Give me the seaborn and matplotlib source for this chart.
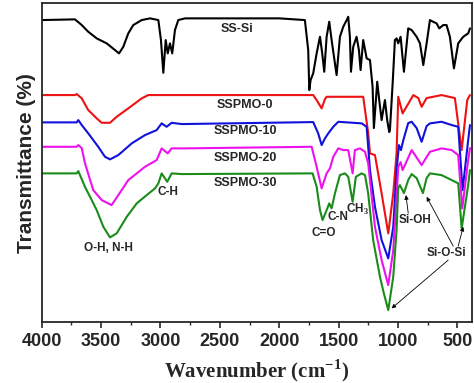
import numpy as np
import pandas as pd
import matplotlib
matplotlib.use("Agg")
import matplotlib.pyplot as plt
from matplotlib.ticker import MultipleLocator
import seaborn as sns

# spectra: wavenumber (cm-1) and transmittance (a.u.)
ss_si_wn = [4000, 3720, 3663, 3608, 3537, 3453, 3383, 3349, 3313, 3271, 3229, 3158,
            3088, 3018, 2996, 2976, 2956, 2939, 2920, 2901, 2878, 2850, 2794, 2000,
            1784, 1756, 1747, 1736, 1714, 1685, 1657, 1638, 1621, 1601, 1579, 1559,
            1517, 1489, 1461, 1432, 1419, 1405, 1396, 1377, 1349, 1329, 1315, 1293,
            1264, 1236, 1214, 1203, 1175, 1158, 1138, 1110, 1091, 1074, 1068, 1045,
            1026, 1012, 998, 978, 950, 914, 885, 843, 815, 787, 759, 731, 704, 675,
            653, 619, 591, 563, 529, 493, 451, 409, 394]
ss_si_t = [302, 302.7, 297, 290.3, 283.7, 278.7, 272, 268.7, 275.3, 288.7, 297, 302,
           303.7, 302, 282, 249.3, 282, 268.7, 278.7, 268.7, 292, 302, 303.7, 303.7,
           302, 272, 232, 242, 248.7, 268.7, 285.3, 268.7, 250.3, 285.3, 300.3, 282,
           247, 285.3, 295.3, 302, 305.3, 285.3, 250.3, 275.3, 285.3, 272, 252, 282,
           263.7, 262, 235.3, 194, 240.3, 222, 202, 222, 202, 190, 192, 238.7,
           282, 283.7, 278.7, 285.3, 250.3, 293.7, 292, 285.3, 278.7, 257, 278.7, 302, 300.3, 298.7,
           293.7, 297, 297, 285.3, 253.7, 278.7, 285.3, 288.7, 293.7]

pmo0_wn = [4000, 3720, 3705, 3663, 3608, 3537, 3495, 3425, 3369, 3271, 3158, 3103,
           1714, 1685, 1643, 1615, 1601, 1293, 1251, 1236, 1194, 1138, 1082, 1040,
           1012, 998, 961, 871, 829, 801, 759, 633, 521, 464, 417, 394]
pmo0_t = [227, 227, 228, 223.7, 212, 203.7, 199.3, 199.3, 205.3, 213.7, 223.7, 227,
          227, 222, 213.7, 223, 225.3, 225.3, 189, 168.7, 167, 128.7, 88.7, 128.7,
          168.7, 225.3, 208.7, 227, 224, 215.3, 224, 227, 224, 172, 222, 227]

pmo10_wn = [4000, 3705, 3692, 3663, 3608, 3524, 3467, 3425, 3355, 3242, 3130, 3032,
            2990, 2948, 2906, 2821, 1714, 1672, 1643, 1615, 1587, 1545, 1503, 1306,
            1264, 1236, 1194, 1138, 1082, 1040, 1012, 992, 975, 955, 914, 885, 843,
            801, 759, 731, 633, 548, 493, 456, 409, 394]
pmo10_t = [199.7, 199.7, 202, 197, 188.7, 175.3, 165.3, 162.7, 167, 178.7, 187, 192,
           198.7, 195.3, 199.3, 198, 200, 188.7, 177, 183.7, 188.7, 195.3, 200.3, 198.7,
           195.3, 152, 115.3, 82, 63.7, 95.3, 152, 177, 172, 182, 199, 200.3, 194,
           180.3, 196, 198.7, 200.3, 197, 195.3, 132, 182, 197]

pmo20_wn = [4000, 3705, 3692, 3663, 3636, 3566, 3495, 3412, 3383, 3271, 3130, 3032,
            2990, 2939, 2906, 2794, 1727, 1685, 1643, 1601, 1573, 1545, 1503, 1461,
            1419, 1382, 1363, 1321, 1278, 1251, 1236, 1194, 1138, 1082, 1040, 1012,
            998, 978, 961, 885, 801, 731, 633, 548, 493, 459, 409, 394]
pmo20_t = [175.3, 175.3, 177, 174, 159, 132, 122, 117, 122, 142, 155.3, 162,
           173.7, 168.7, 173.7, 173.7, 175.3, 155.3, 133.7, 148.7, 153.7, 165.3, 173.7, 172,
           172, 148.7, 172, 173.7, 170.3, 158.7, 142, 95.3, 62, 37, 72, 125.3,
           155.3, 160, 152, 172, 157, 170.3, 173.7, 172, 167, 113.7, 162, 174]

pmo30_wn = [4000, 3705, 3692, 3636, 3579, 3537, 3481, 3425, 3369, 3284, 3200, 3116,
            3046, 3018, 2990, 2943, 2906, 2821, 1719, 1685, 1657, 1635, 1601, 1579,
            1559, 1531, 1489, 1447, 1419, 1382, 1355, 1306, 1278, 1251, 1209, 1152,
            1119, 1082, 1040, 1012, 998, 984, 950, 914, 885, 843, 790, 759, 731,
            633, 548, 493, 464, 409, 394]
pmo30_t = [148.7, 148.7, 151, 135.3, 122, 112, 95.3, 84.7, 88.7, 105.3, 118.7, 127,
           133.7, 138.7, 148.7, 140.3, 148.7, 148, 148.7, 135.3, 112, 102, 112, 118.7,
           113.7, 128.7, 147, 148.7, 145.3, 120.3, 145.3, 148.7, 147, 128.7, 82, 45.3,
           28.7, 12, 45.3, 92, 134, 137, 129, 142, 148, 144, 129, 144, 148.7,
           147, 142, 138.7, 93.7, 137, 152]

samples = ["SS-Si", "SSPMO-0", "SSPMO-10", "SSPMO-20", "SSPMO-30"]
colors = ["#000000", "#ee1111", "#1111dd", "#ee11ee", "#1a8c1a"]
wn_sets = [ss_si_wn, pmo0_wn, pmo10_wn, pmo20_wn, pmo30_wn]
t_sets = [ss_si_t, pmo0_t, pmo10_t, pmo20_t, pmo30_t]

df = pd.concat([pd.DataFrame({"wn": w, "T": t, "sample": s})
                for w, t, s in zip(wn_sets, t_sets, samples)], ignore_index=True)

sns.set_style("ticks")
plt.rcParams["font.family"] = ["Liberation Sans", "DejaVu Sans"]
plt.rcParams["mathtext.fontset"] = "custom"
plt.rcParams["mathtext.rm"] = "Liberation Serif:bold"
plt.rcParams["mathtext.bf"] = "Liberation Serif:bold"

fig = plt.figure(figsize=(4.74, 3.83), dpi=100)
ax = fig.add_axes([0.088, 0.159, 0.907, 0.833])

sns.lineplot(data=df, x="wn", y="T", hue="sample", hue_order=samples,
             palette=dict(zip(samples, colors)), sort=False, estimator=None,
             legend=False, linewidth=1.5, ax=ax)

ax.set_xlim(4000, 380)
ax.set_ylim(0, 319)
ax.xaxis.set_major_locator(MultipleLocator(500))
ax.xaxis.set_minor_locator(MultipleLocator(250))
ax.set_yticks([])
ax.tick_params(axis="x", which="major", direction="out", length=4, width=1.2)
ax.tick_params(axis="x", which="minor", direction="out", length=2.5, width=1.0)
for lab in ax.get_xticklabels():
    lab.set_fontweight("bold")
    lab.set_fontsize(13)
for sp in ax.spines.values():
    sp.set_visible(True)
    sp.set_linewidth(1.3)

ax.set_xlabel("Wavenumber (cm$^{-1}$)", fontsize=15, fontweight="bold",
              family="Liberation Serif", labelpad=6)
ax.set_ylabel("Transmittance (%)", fontsize=15, fontweight="bold", labelpad=4)

# sample names
name_pos = [(2358, 292.7), (2289, 217), (2289, 191), (2289, 164.3), (2289, 139.3)]
for s, (x, y) in zip(samples, name_pos):
    ax.text(x, y, s, ha="center", va="center", fontsize=9, fontweight="bold")

# band labels
bands = [("C-H", 2934, 129.7), ("O-H, N-H", 3439, 73.7), ("C=O", 1629, 88.7),
         ("C-N", 1503, 105.3), ("CH$_3$", 1345, 113), ("Si-OH", 858, 102),
         ("Si-O-Si", 591, 68.7)]
for txt, x, y in bands:
    ax.text(x, y, txt, ha="center", va="center", fontsize=8.5, fontweight="bold")

arrow = dict(arrowstyle="-|>", color="black", lw=0.6, mutation_scale=6,
             shrinkA=0, shrinkB=0)
ax.annotate("", xy=(933, 127), xytext=(914, 109), arrowprops=arrow)
ax.annotate("", xy=(759, 125.3), xytext=(535, 76), arrowprops=arrow)
ax.annotate("", xy=(451, 95.3), xytext=(493, 76), arrowprops=arrow)
ax.annotate("", xy=(1054, 13.7), xytext=(577, 62), arrowprops=arrow)

fig.savefig("out.png", dpi=100)
